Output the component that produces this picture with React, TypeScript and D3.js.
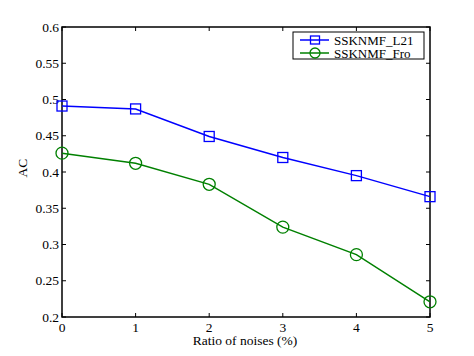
import React from "react";
import * as d3 from "d3";

const xValues = [0, 1, 2, 3, 4, 5];
const l21Values = [0.491, 0.487, 0.449, 0.42, 0.395, 0.366];
const froValues = [0.426, 0.412, 0.383, 0.324, 0.286, 0.221];
const yTicks = [0.2, 0.25, 0.3, 0.35, 0.4, 0.45, 0.5, 0.55, 0.6];
const xTicks = [0, 1, 2, 3, 4, 5];
const seriesNames = ["SSKNMF_L21", "SSKNMF_Fro"];

export default function App() {
  const W = 474, H = 356;
  const L = 62, R = 430, T = 27, B = 317;
  const x = d3.scaleLinear().domain([0, 5]).range([L, R]);
  const y = d3.scaleLinear().domain([0.2, 0.6]).range([B, T]);
  const line = d3.line<number>().x((_, i) => x(xValues[i])).y((d) => y(d));
  const font = "'Liberation Serif', 'Times New Roman', serif";
  const fs = 13.5;
  const blue = "#0000ff";
  const green = "#008000";
  const tl = 4;
  return (
    <svg width={W} height={H} style={{ position: "absolute", left: 0, top: 0, background: "#fff" }}>
      <rect x={0} y={0} width={W} height={H} fill="#fff" />
      {yTicks.map((t) => (
        <g key={"y" + t}>
          <line x1={L} x2={L + tl} y1={y(t)} y2={y(t)} stroke="#000" />
          <line x1={R} x2={R - tl} y1={y(t)} y2={y(t)} stroke="#000" />
          <text x={L - 3} y={y(t)} dy="0.35em" textAnchor="end" fontFamily={font} fontSize={fs} fill="#000">
            {String(t)}
          </text>
        </g>
      ))}
      {xTicks.map((t) => (
        <g key={"x" + t}>
          <line x1={x(t)} x2={x(t)} y1={B} y2={B - tl} stroke="#000" />
          <line x1={x(t)} x2={x(t)} y1={T} y2={T + tl} stroke="#000" />
          <text x={x(t)} y={B + 14.5} textAnchor="middle" fontFamily={font} fontSize={fs} fill="#000">
            {String(t)}
          </text>
        </g>
      ))}
      <rect x={L} y={T} width={R - L} height={B - T} fill="none" stroke="#000" strokeWidth={1.5} />
      <path d={line(l21Values) || ""} fill="none" stroke={blue} strokeWidth={1.5} />
      <path d={line(froValues) || ""} fill="none" stroke={green} strokeWidth={1.5} />
      {l21Values.map((v, i) => (
        <rect key={"s" + i} x={x(xValues[i]) - 5} y={y(v) - 5} width={10} height={10} fill="none" stroke={blue} strokeWidth={1.3} />
      ))}
      {froValues.map((v, i) => (
        <circle key={"c" + i} cx={x(xValues[i])} cy={y(v)} r={6} fill="none" stroke={green} strokeWidth={1.3} />
      ))}
      <text x={245} y={345} textAnchor="middle" fontFamily={font} fontSize={fs} fill="#000">
        Ratio of noises (%)
      </text>
      <text transform={`translate(27,168) rotate(-90)`} textAnchor="middle" fontFamily={font} fontSize={fs} fill="#000">
        AC
      </text>
      <g>
        <rect x={293} y={32} width={131} height={27} fill="#fff" stroke="#000" strokeWidth={1} />
        <line x1={300} x2={329} y1={40} y2={40} stroke={blue} strokeWidth={1.5} />
        <rect x={310.5} y={36} width={9} height={8} fill="none" stroke={blue} strokeWidth={1.3} />
        <text x={334} y={40} dy="0.35em" fontFamily={font} fontSize={13} fill="#000">{seriesNames[0]}</text>
        <line x1={300} x2={329} y1={53} y2={53} stroke={green} strokeWidth={1.5} />
        <circle cx={315} cy={53} r={5} fill="none" stroke={green} strokeWidth={1.3} />
        <text x={334} y={53.5} dy="0.35em" fontFamily={font} fontSize={13} fill="#000">{seriesNames[1]}</text>
      </g>
    </svg>
  );
}
